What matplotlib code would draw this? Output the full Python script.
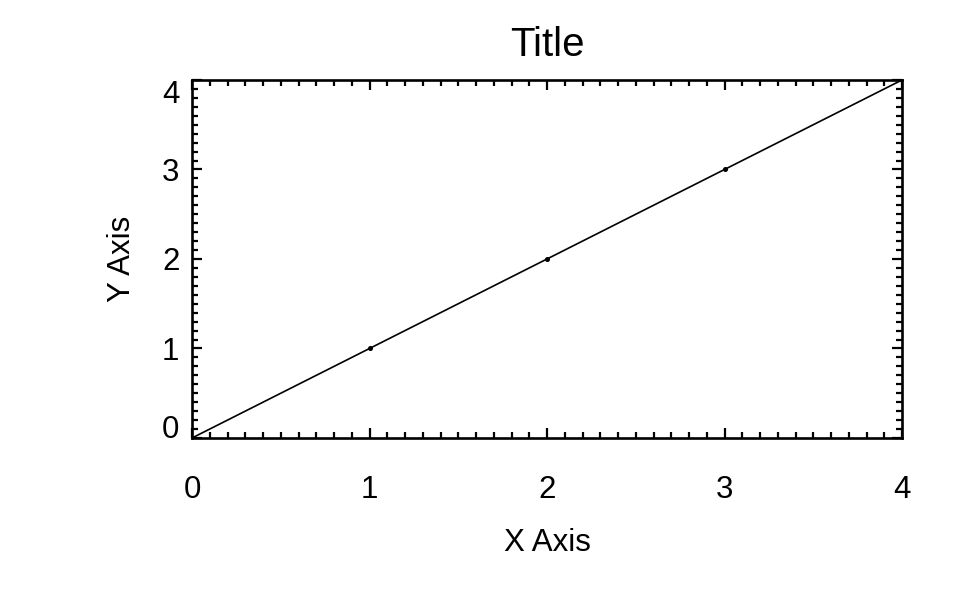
import numpy as np
import matplotlib
matplotlib.use('Agg')
import matplotlib.pyplot as plt
from matplotlib.ticker import MultipleLocator

x_values = [0, 1, 2, 3, 4]
y_values = [0, 1, 2, 3, 4]
x_ticks = [0, 1, 2, 3, 4]
y_ticks = [0, 1, 2, 3, 4]

plt.rcParams['font.family'] = ['Liberation Sans', 'DejaVu Sans']

fig = plt.figure(figsize=(9.6, 6), dpi=100)
ax = fig.add_axes([0.2, 0.27, 0.7396, 0.5967])

ax.plot(x_values, y_values, color='black', linewidth=1.2)
ax.plot(x_values, y_values, linestyle='none', marker='o', markersize=2.6, color='black')

ax.set_xlim(0, 4)
ax.set_ylim(0, 4)
ax.set_xticks(x_ticks)
ax.set_yticks(y_ticks)
ax.xaxis.set_minor_locator(MultipleLocator(0.1))
ax.yaxis.set_minor_locator(MultipleLocator(0.1))

ax.tick_params(which='both', direction='in', top=True, right=True, width=1.6, colors='black')
ax.tick_params(which='major', length=7.5)
ax.tick_params(which='minor', length=4)
ax.tick_params(axis='x', which='major', pad=27, labelsize=22.5)
ax.tick_params(axis='y', which='major', pad=9, labelsize=22.5)
for spine in ax.spines.values():
    spine.set_linewidth(1.9)

# keep the end labels inside the axis range, as in the original
ylabels = ax.get_yticklabels()
ylabels[0].set_va('baseline')
ylabels[-1].set_va('top')

ax.set_xlabel('X Axis', fontsize=22.5, labelpad=16)
ax.set_ylabel('Y Axis', fontsize=22.5, labelpad=18)
ax.set_title('Title', fontsize=29, pad=17)

fig.savefig('out.png', dpi=100)
